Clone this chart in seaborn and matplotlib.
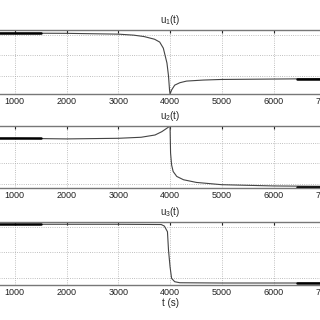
import matplotlib
matplotlib.use("Agg")
import matplotlib.pyplot as plt
import pandas as pd
import seaborn as sns

# time samples (s) and control signals
t1 = [0, 1000, 2000, 2500, 3000, 3300, 3500, 3700, 3800, 3870, 3940, 3970, 3990, 4000,
      4030, 4090, 4190, 4320, 4640, 5000, 6000, 7000, 8000]
u1 = [0.310, 0.310, 0.309, 0.307, 0.305, 0.300, 0.293, 0.280, 0.266, 0.236, 0.163, 0.100, 0.030, 0.010,
      0.030, 0.054, 0.066, 0.074, 0.079, 0.082, 0.084, 0.086, 0.086]

t2 = [0, 1000, 2000, 3000, 3440, 3710, 3840, 3940, 4000, 4010, 4030, 4060, 4130, 4260,
      4510, 5000, 6000, 7000, 8000]
u2 = [0.321, 0.321, 0.318, 0.321, 0.326, 0.337, 0.353, 0.370, 0.381, 0.250, 0.192, 0.160, 0.136, 0.120,
      0.107, 0.096, 0.090, 0.088, 0.087]

t3 = [0, 1000, 2000, 3000, 3830, 3890, 3950, 3970, 4000, 4030, 4090, 4190, 5000, 6000, 7000, 8000]
u3 = [0.309, 0.309, 0.309, 0.309, 0.308, 0.302, 0.280, 0.209, 0.144, 0.099, 0.086, 0.082, 0.081, 0.081,
      0.081, 0.081]

# thick reference levels at start and end
ref_left_t = [0, 1500]
ref_right_t = [6450, 8000]
ref1 = [0.310, 0.086]
ref2 = [0.321, 0.087]
ref3 = [0.309, 0.082]

titles = ["u$_1$(t)", "u$_2$(t)", "u$_3$(t)"]
xticks = [1000, 2000, 3000, 4000, 5000, 6000, 7000]
yticks = [0.1, 0.2, 0.3]
ylims = [(0.010, 0.325), (0.080, 0.381), (0.0728, 0.3175)]

sns.set_style("white")
plt.rcParams["font.family"] = ["Liberation Sans", "DejaVu Sans"]
plt.rcParams["mathtext.fontset"] = "custom"
plt.rcParams["mathtext.rm"] = "Liberation Sans"
plt.rcParams["mathtext.it"] = "Liberation Sans"

fig = plt.figure(figsize=(3.2, 3.2), dpi=100)
bottoms = [0.706, 0.4125, 0.109]
heights = [0.200, 0.194, 0.197]

series = [(t1, u1, ref1), (t2, u2, ref2), (t3, u3, ref3)]
for i, (tt, uu, ref) in enumerate(series):
    # axes run past the left/right edges, the source image is cropped
    ax = fig.add_axes([-0.1156, bottoms[i], 1.294, heights[i]])
    df = pd.DataFrame({"t": tt, "u": uu})
    sns.lineplot(data=df, x="t", y="u", ax=ax, color="#444444", linewidth=0.8)
    sns.lineplot(x=ref_left_t, y=[ref[0]] * 2, ax=ax, color="black", linewidth=1.8)
    sns.lineplot(x=ref_right_t, y=[ref[1]] * 2, ax=ax, color="black", linewidth=1.8)
    ax.set_xlim(0, 8000)
    ax.set_ylim(*ylims[i])
    ax.set_xticks(xticks)
    ax.set_yticks(yticks)
    ax.set_yticklabels([])
    ax.grid(True, linestyle=":", color="#aaaaaa", linewidth=0.6)
    ax.tick_params(direction="in", length=2.5, labelsize=6.5, pad=2, colors="#222222",
                   top=True, right=True)
    for sp in ax.spines.values():
        sp.set_color("#777777")
        sp.set_linewidth(1.0)
    ax.set_title(titles[i], fontsize=7, pad=5)
    ax.set_ylabel("")
    ax.set_xlabel("t (s)" if i == 2 else "", fontsize=7, labelpad=1)

fig.savefig("out.png", dpi=100)
